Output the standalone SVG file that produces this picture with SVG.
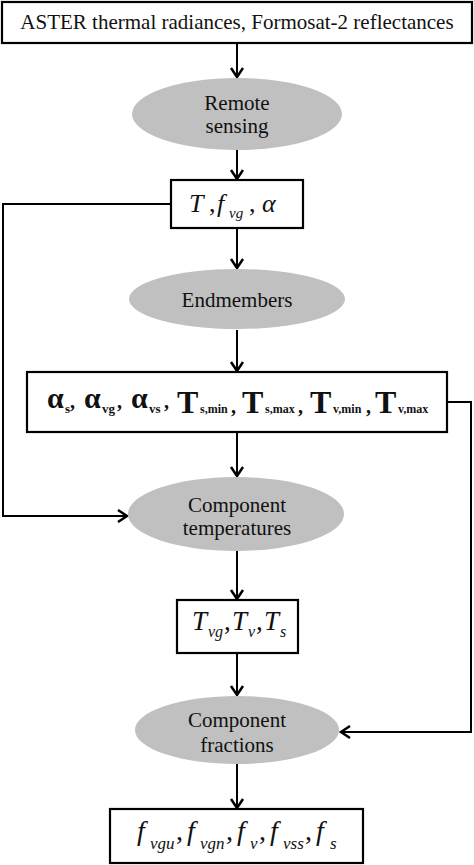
<svg xmlns="http://www.w3.org/2000/svg" width="474" height="865" viewBox="0 0 474 865">
<defs>
<marker id="arr" markerUnits="userSpaceOnUse" markerWidth="16" markerHeight="16" viewBox="-11 -8 13 16" refX="0" refY="0" orient="auto">
<path d="M-9,-6 L0,0 L-9,6" fill="none" stroke="#000" stroke-width="2.5"/>
</marker>
</defs>
<style>
.box{fill:#fff;stroke:#000;stroke-width:2.2}
.ell{fill:#c0c0c0;stroke:none}
text{font-family:'Liberation Serif','DejaVu Serif','Times New Roman',serif;fill:#111}
.lab{font-size:21px;text-anchor:middle}
.con{fill:none;stroke:#000;stroke-width:2}
.b{font-weight:bold}
.i{font-style:italic}
</style>
<g id="connectors">
<line class="con" x1="237" y1="43" x2="237" y2="77" marker-end="url(#arr)"/>
<line class="con" x1="237" y1="150" x2="237" y2="179" marker-end="url(#arr)"/>
<line class="con" x1="237" y1="229" x2="237" y2="268" marker-end="url(#arr)"/>
<line class="con" x1="237" y1="330" x2="237" y2="371" marker-end="url(#arr)"/>
<line class="con" x1="237" y1="433" x2="237" y2="476" marker-end="url(#arr)"/>
<line class="con" x1="237" y1="551" x2="237" y2="599" marker-end="url(#arr)"/>
<line class="con" x1="237" y1="654" x2="237" y2="695" marker-end="url(#arr)"/>
<line class="con" x1="237" y1="764" x2="237" y2="808" marker-end="url(#arr)"/>
<polyline class="con" points="171,204 3,204 3,516 127,516" marker-end="url(#arr)"/>
<polyline class="con" points="448,402 471,402 471,732 341,732" marker-end="url(#arr)"/>
</g>
<g id="n1">
<rect class="box" x="2" y="2" width="470" height="41"/>
<text class="lab" font-family="Liberation Serif, DejaVu Serif, serif" x="237" y="29">ASTER thermal radiances, Formosat-2 reflectances</text>
</g>
<g id="n2">
<ellipse class="ell" cx="237" cy="114" rx="105" ry="36"/>
<text class="lab" font-family="Liberation Serif, DejaVu Serif, serif" x="237" y="110">Remote</text>
<text class="lab" font-family="Liberation Serif, DejaVu Serif, serif" x="237" y="133">sensing</text>
</g>
<g id="n3">
<rect class="box" x="171" y="180" width="132" height="48"/>
<text class="i" font-family="Liberation Serif, DejaVu Serif, serif" font-size="26" y="212"><tspan x="189">T</tspan><tspan x="209" font-style="normal">,</tspan><tspan x="217">f</tspan><tspan x="229" y="218" font-size="15">vg</tspan><tspan x="249" y="212" font-style="normal">,</tspan><tspan x="262">α</tspan></text>
</g>
<g id="n4">
<ellipse class="ell" cx="237" cy="299" rx="108" ry="30"/>
<text class="lab" font-family="Liberation Serif, DejaVu Serif, serif" x="237" y="307">Endmembers</text>
</g>
<g id="n5">
<rect class="box" x="27" y="372" width="420" height="60"/>
<text class="b" font-family="Liberation Serif, DejaVu Serif, serif" font-size="30" y="408"><tspan x="47">α</tspan><tspan x="65" y="413" font-size="13">s</tspan><tspan x="70" y="408" font-size="20">,</tspan><tspan x="84">α</tspan><tspan x="102" y="413" font-size="13">vg</tspan><tspan x="117" y="408" font-size="20">,</tspan><tspan x="131">α</tspan><tspan x="149" y="413" font-size="13">vs</tspan><tspan x="164" y="408" font-size="20">,</tspan><tspan x="177" y="413" font-size="32">T</tspan><tspan x="200" y="413" font-size="12">s,min</tspan><tspan x="231" y="413" font-size="20">,</tspan><tspan x="242" font-size="32">T</tspan><tspan x="265" font-size="12">s,max</tspan><tspan x="298" font-size="20">,</tspan><tspan x="310" font-size="32">T</tspan><tspan x="333" font-size="12">v,min</tspan><tspan x="366" font-size="20">,</tspan><tspan x="375" font-size="32">T</tspan><tspan x="398" font-size="12">v,max</tspan></text>
</g>
<g id="n6">
<ellipse class="ell" cx="236" cy="514" rx="108" ry="37"/>
<text class="lab" font-family="Liberation Serif, DejaVu Serif, serif" x="237" y="512">Component</text>
<text class="lab" font-family="Liberation Serif, DejaVu Serif, serif" x="237" y="535">temperatures</text>
</g>
<g id="n7">
<rect class="box" x="177" y="600" width="121" height="53"/>
<text class="i" font-family="Liberation Serif, DejaVu Serif, serif" font-size="27" y="630"><tspan x="192">T</tspan><tspan x="208" y="637" font-size="16">vg</tspan><tspan x="224" y="630" font-style="normal">,</tspan><tspan x="232">T</tspan><tspan x="248" y="637" font-size="16">v</tspan><tspan x="256" y="630" font-style="normal">,</tspan><tspan x="264">T</tspan><tspan x="280" y="637" font-size="16">s</tspan></text>
</g>
<g id="n8">
<ellipse class="ell" cx="237" cy="730" rx="102" ry="34"/>
<text class="lab" font-family="Liberation Serif, DejaVu Serif, serif" x="237" y="727">Component</text>
<text class="lab" font-family="Liberation Serif, DejaVu Serif, serif" x="237" y="752">fractions</text>
</g>
<g id="n9">
<rect class="box" x="110" y="809" width="253" height="54"/>
<text class="i" font-family="Liberation Serif, DejaVu Serif, serif" font-size="28" y="840"><tspan x="137">f</tspan><tspan x="150" y="849" font-size="17">vgu</tspan><tspan x="176" y="840" font-style="normal">,</tspan><tspan x="187">f</tspan><tspan x="200" y="849" font-size="17">vgn</tspan><tspan x="226" y="840" font-style="normal">,</tspan><tspan x="237">f</tspan><tspan x="250" y="849" font-size="17">v</tspan><tspan x="259" y="840" font-style="normal">,</tspan><tspan x="270">f</tspan><tspan x="283" y="849" font-size="17">vss</tspan><tspan x="305" y="840" font-style="normal">,</tspan><tspan x="316">f</tspan><tspan x="330" y="849" font-size="17">s</tspan></text>
</g>
</svg>
